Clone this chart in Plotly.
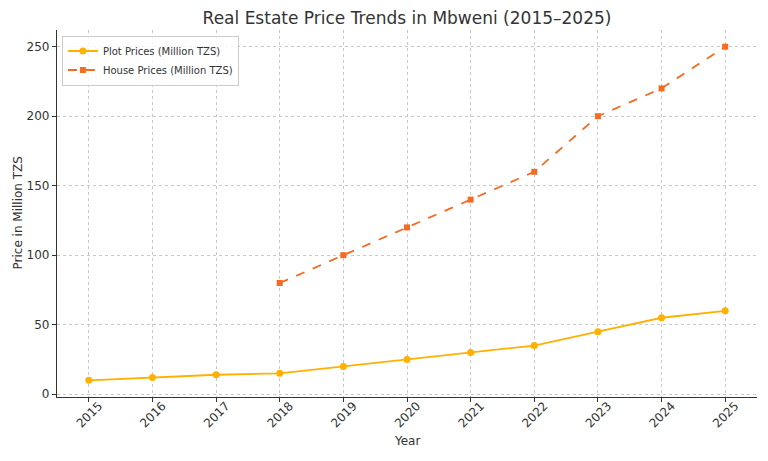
import plotly.graph_objects as go

years = [2015, 2016, 2017, 2018, 2019, 2020, 2021, 2022, 2023, 2024, 2025]
plot_prices = [10, 12, 14, 15, 20, 25, 30, 35, 45, 55, 60]
house_years = [2018, 2019, 2020, 2021, 2022, 2023, 2024, 2025]
house_prices = [80, 100, 120, 140, 160, 200, 220, 250]
y_ticks = [0, 50, 100, 150, 200, 250]

FONT = "DejaVu Sans"
TXT = "#333333"

fig = go.Figure()
fig.add_trace(go.Scatter(
    x=years, y=plot_prices, mode="lines+markers", name="Plot Prices (Million TZS)",
    line=dict(color="#ffb000", width=1.8),
    marker=dict(symbol="circle", size=7, color="#ffb000"),
))
fig.add_trace(go.Scatter(
    x=house_years, y=house_prices, mode="lines+markers", name="House Prices (Million TZS)",
    line=dict(color="#f56b22", width=1.8, dash="dash"),
    marker=dict(symbol="square", size=6, color="#f56b22"),
))

fig.update_layout(
    width=768, height=461,
    margin=dict(l=57, r=11, t=30, b=64),
    paper_bgcolor="white", plot_bgcolor="white",
    font=dict(family=FONT, size=12, color=TXT),
    title=dict(text="Real Estate Price Trends in Mbweni (2015–2025)",
               x=(57 + 757) / 2 / 768, xanchor="center", y=1 - 18 / 461, yanchor="middle",
               font=dict(size=17, color=TXT)),
    showlegend=True,
    legend=dict(x=0.007, y=0.985, xanchor="left", yanchor="top",
                bgcolor="rgba(255,255,255,0.8)", bordercolor="#cccccc", borderwidth=1,
                font=dict(size=10, color=TXT), tracegroupgap=0,
                itemwidth=30),
    annotations=[
        dict(text="Year", xref="paper", yref="paper", x=0.5, y=-(441 - 397) / 367,
             xanchor="center", yanchor="middle", showarrow=False,
             font=dict(size=12, color=TXT)),
        dict(text="Price in Million TZS", xref="paper", yref="paper",
             x=-(57 - 17) / 700, y=0.5, xanchor="center", yanchor="middle",
             textangle=-90, showarrow=False, font=dict(size=12, color=TXT)),
    ],
)
fig.update_xaxes(
    range=[2014.5, 2025.5], tickmode="array", tickvals=years, ticktext=[str(y) for y in years],
    tickangle=-45, ticks="outside", ticklen=4, tickcolor="#333333",
    ticklabelshift=10, ticklabelstandoff=-8,
    showline=True, linecolor="#333333", linewidth=1.2,
    showgrid=True, gridcolor="#c8c8c8", griddash="dot", gridwidth=0.8,
    zeroline=False, automargin=False,
    tickfont=dict(size=12, color=TXT),
)
fig.update_yaxes(
    range=[-2, 262], tickmode="array", tickvals=y_ticks,
    ticks="outside", ticklen=4, tickcolor="#333333",
    showline=True, linecolor="#333333", linewidth=1.2,
    showgrid=True, gridcolor="#c8c8c8", griddash="dot", gridwidth=0.8,
    zeroline=False, automargin=False,
    tickfont=dict(size=12, color=TXT),
)

fig.write_html("out.html")
